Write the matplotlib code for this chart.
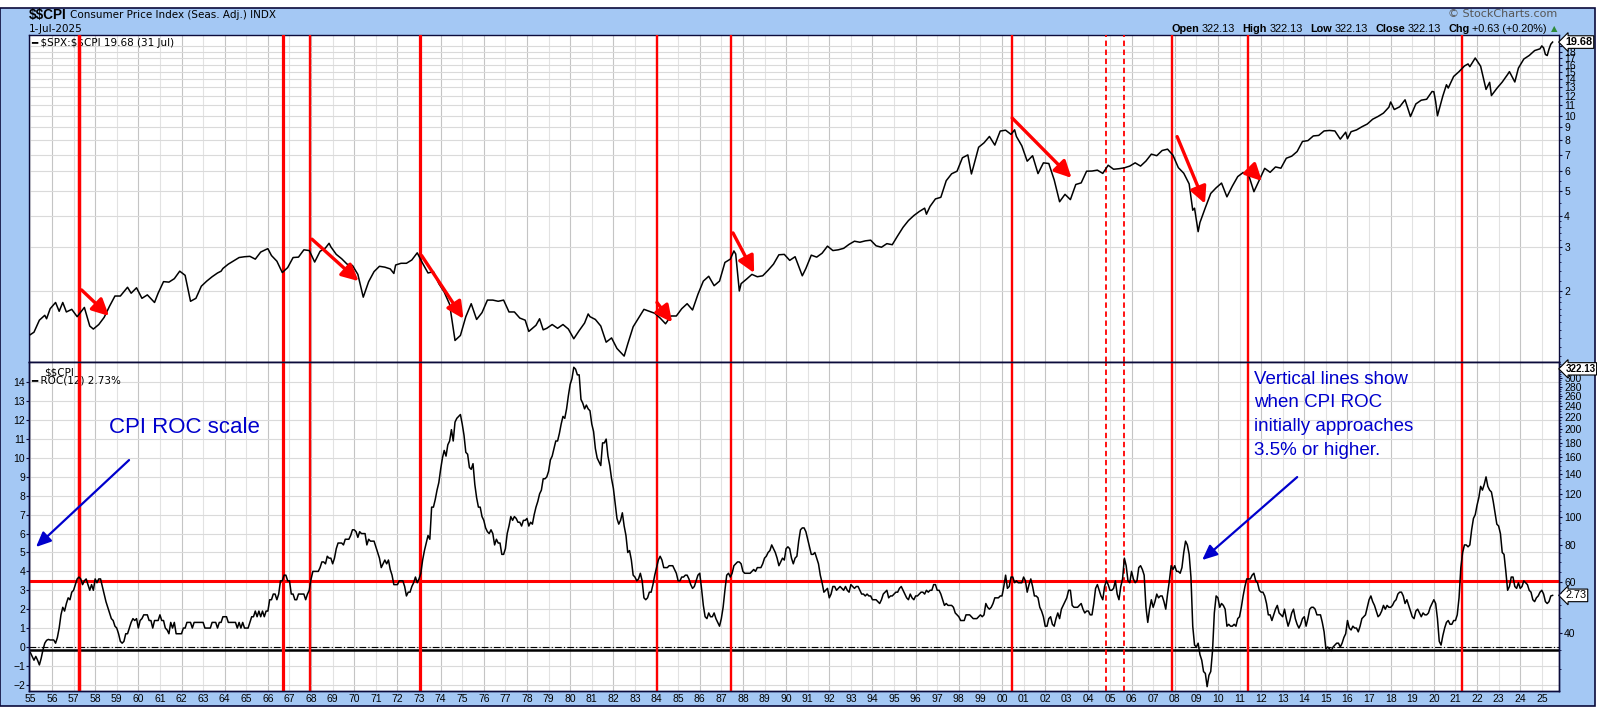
import numpy as np
import matplotlib
matplotlib.use("Agg")
import matplotlib.pyplot as plt
import matplotlib.ticker as mticker
import matplotlib.transforms as mtrans
from matplotlib.patches import Rectangle

plt.rcParams['font.family'] = ['DejaVu Sans']

W, H = 1597, 708
BLUE_BG = '#a4c8f4'
NAVY = '#0b0b3b'
RED = '#ff0000'
ANNOT_BLUE = '#0000cc'
TICK_FONT = 'Liberation Sans'

# ---- data: $SPX:$$CPI ratio (month, value) ----
ratio_dates = [
    '1955-01', '1955-03', '1955-06', '1955-09', '1955-10', '1955-12', '1956-03', '1956-05', '1956-07', '1956-09',
    '1956-12', '1957-03', '1957-07', '1957-10', '1957-12', '1958-03', '1958-06', '1958-09', '1958-12', '1959-03',
    '1959-07', '1959-09', '1959-12', '1960-03', '1960-06', '1960-10', '1960-12', '1961-03', '1961-06', '1961-09',
    '1961-12', '1962-03', '1962-06', '1962-09', '1962-12', '1963-03', '1963-06', '1963-09', '1963-11', '1963-12',
    '1964-03', '1964-06', '1964-09', '1964-12', '1965-03', '1965-06', '1965-09', '1965-12', '1966-01', '1966-03',
    '1966-06', '1966-09', '1966-12', '1967-03', '1967-06', '1967-09', '1967-12', '1968-03', '1968-06', '1968-09',
    '1968-11', '1968-12', '1969-03', '1969-06', '1969-09', '1969-12', '1970-03', '1970-06', '1970-09', '1970-12',
    '1971-03', '1971-06', '1971-09', '1971-11', '1971-12', '1972-03', '1972-06', '1972-09', '1972-12', '1973-03',
    '1973-06', '1973-09', '1973-12', '1974-03', '1974-06', '1974-09', '1974-12', '1975-03', '1975-06', '1975-09',
    '1975-12', '1976-03', '1976-06', '1976-09', '1976-12', '1977-03', '1977-06', '1977-09', '1977-12', '1978-02',
    '1978-03', '1978-06', '1978-08', '1978-10', '1978-12', '1979-03', '1979-06', '1979-09', '1979-12', '1980-03',
    '1980-06', '1980-09', '1980-11', '1980-12', '1981-03', '1981-06', '1981-09', '1981-12', '1982-03', '1982-07',
    '1982-09', '1982-12', '1983-03', '1983-06', '1983-09', '1983-12', '1984-03', '1984-06', '1984-09', '1984-12',
    '1985-03', '1985-06', '1985-09', '1985-12', '1986-03', '1986-06', '1986-09', '1986-12', '1987-03', '1987-06',
    '1987-08', '1987-09', '1987-11', '1987-12', '1988-03', '1988-06', '1988-09', '1988-12', '1989-03', '1989-06',
    '1989-09', '1989-12', '1990-03', '1990-06', '1990-10', '1990-12', '1991-03', '1991-06', '1991-09', '1991-12',
    '1992-03', '1992-06', '1992-09', '1992-12', '1993-03', '1993-06', '1993-09', '1993-12', '1994-03', '1994-06',
    '1994-09', '1994-12', '1995-03', '1995-06', '1995-09', '1995-12', '1996-03', '1996-06', '1996-07', '1996-09',
    '1996-12', '1997-03', '1997-06', '1997-09', '1997-12', '1998-03', '1998-06', '1998-08', '1998-09', '1998-12',
    '1999-03', '1999-06', '1999-09', '1999-12', '2000-03', '2000-06', '2000-08', '2000-09', '2000-12', '2001-03',
    '2001-06', '2001-09', '2001-12', '2002-03', '2002-06', '2002-09', '2002-12', '2003-03', '2003-06', '2003-09',
    '2003-12', '2004-03', '2004-06', '2004-09', '2004-12', '2005-03', '2005-06', '2005-09', '2005-12', '2006-03',
    '2006-06', '2006-09', '2006-12', '2007-03', '2007-06', '2007-09', '2007-12', '2008-03', '2008-06', '2008-09',
    '2008-11', '2008-12', '2009-02', '2009-03', '2009-06', '2009-09', '2009-12', '2010-03', '2010-06', '2010-09',
    '2010-12', '2011-03', '2011-06', '2011-09', '2011-12', '2012-03', '2012-06', '2012-09', '2012-12', '2013-03',
    '2013-06', '2013-09', '2013-12', '2014-03', '2014-06', '2014-09', '2014-12', '2015-03', '2015-06', '2015-09',
    '2015-12', '2016-01', '2016-03', '2016-06', '2016-09', '2016-12', '2017-03', '2017-06', '2017-09', '2017-12',
    '2018-01', '2018-03', '2018-06', '2018-09', '2018-12', '2019-03', '2019-06', '2019-09', '2019-12', '2020-01',
    '2020-02', '2020-03', '2020-06', '2020-08', '2020-09', '2020-12', '2021-03', '2021-06', '2021-08', '2021-09',
    '2021-12', '2022-03', '2022-06', '2022-08', '2022-09', '2022-12', '2023-03', '2023-06', '2023-07', '2023-10',
    '2023-12', '2024-03', '2024-06', '2024-09', '2024-12', '2025-01', '2025-02', '2025-03', '2025-04', '2025-05',
    '2025-06', '2025-07',
]
ratio_vals = [
    1.34, 1.37, 1.53, 1.60, 1.55, 1.70, 1.80, 1.66, 1.80, 1.65,
    1.69, 1.58, 1.72, 1.45, 1.41, 1.47, 1.57, 1.74, 1.91, 1.91,
    2.07, 1.96, 2.06, 1.87, 1.93, 1.80, 1.96, 2.18, 2.17, 2.24,
    2.40, 2.31, 1.82, 1.87, 2.09, 2.19, 2.28, 2.36, 2.40, 2.46,
    2.56, 2.64, 2.72, 2.74, 2.75, 2.68, 2.86, 2.93, 2.95, 2.77,
    2.63, 2.37, 2.48, 2.72, 2.73, 2.92, 2.90, 2.61, 2.88, 2.97,
    3.10, 3.00, 2.80, 2.69, 2.56, 2.53, 2.33, 1.89, 2.18, 2.39,
    2.51, 2.49, 2.45, 2.35, 2.54, 2.58, 2.58, 2.66, 2.84, 2.58,
    2.36, 2.39, 2.14, 1.98, 1.77, 1.27, 1.33, 1.58, 1.78, 1.54,
    1.64, 1.84, 1.84, 1.82, 1.84, 1.65, 1.65, 1.56, 1.53, 1.38,
    1.40, 1.46, 1.55, 1.40, 1.42, 1.47, 1.42, 1.47, 1.41, 1.29,
    1.39, 1.49, 1.62, 1.58, 1.54, 1.45, 1.25, 1.30, 1.18, 1.10,
    1.23, 1.44, 1.56, 1.69, 1.66, 1.63, 1.56, 1.48, 1.59, 1.59,
    1.70, 1.78, 1.68, 1.94, 2.19, 2.29, 2.10, 2.19, 2.60, 2.68,
    2.89, 2.81, 2.00, 2.14, 2.23, 2.33, 2.28, 2.30, 2.42, 2.56,
    2.79, 2.80, 2.65, 2.74, 2.30, 2.46, 2.78, 2.73, 2.83, 3.02,
    2.90, 2.92, 2.96, 3.07, 3.16, 3.13, 3.17, 3.19, 3.03, 2.99,
    3.09, 3.06, 3.32, 3.59, 3.82, 4.00, 4.15, 4.28, 4.05, 4.35,
    4.66, 4.73, 5.51, 5.87, 6.01, 6.80, 6.98, 5.86, 6.22, 7.49,
    7.80, 8.27, 7.64, 8.69, 8.76, 8.43, 8.79, 8.27, 7.59, 6.59,
    6.93, 5.88, 6.49, 6.45, 5.55, 4.54, 4.86, 4.63, 5.32, 5.40,
    6.01, 6.02, 6.07, 5.89, 6.35, 6.12, 6.15, 6.20, 6.30, 6.49,
    6.30, 6.60, 7.03, 6.93, 7.27, 7.36, 6.96, 6.21, 5.90, 5.35,
    4.20, 4.28, 3.45, 3.75, 4.30, 4.90, 5.16, 5.39, 4.75, 5.24,
    5.72, 5.94, 5.83, 4.98, 5.54, 6.17, 5.95, 6.25, 6.18, 6.77,
    6.90, 7.20, 7.90, 7.96, 8.31, 8.35, 8.70, 8.74, 8.70, 8.07,
    8.60, 8.10, 8.64, 8.78, 9.04, 9.27, 9.69, 9.94, 10.25, 10.82,
    11.35, 10.59, 10.86, 11.58, 9.93, 11.15, 11.54, 11.64, 12.50, 12.47,
    11.40, 10.00, 12.00, 13.30, 12.90, 14.35, 15.00, 15.80, 16.10, 15.70,
    17.00, 15.76, 12.74, 13.60, 12.04, 12.86, 13.63, 14.62, 15.00, 13.64,
    15.50, 16.84, 17.40, 18.20, 18.50, 19.00, 18.66, 17.56, 17.39, 18.44,
    19.30, 19.68,
]

# ---- data: $$CPI ROC(12), monthly from Jan 1955 ----
roc_start_year = 1955
roc_vals = [
    -0.3, -0.5, -0.7, -0.5, -0.7, -0.95, -0.6, -0.15, 0.2, 0.35, 0.4, 0.37,   # 1955
    0.37, 0.37, 0.2, 0.5, 1.0, 1.7, 2.1, 1.9, 2.3, 2.6, 2.5, 2.9,
    3.0, 3.3, 3.6, 3.7, 3.6, 3.3, 3.5, 3.6, 3.3, 3.0, 3.3, 3.0,
    3.6, 3.4, 3.6, 3.6, 3.2, 2.8, 2.4, 2.1, 1.8, 1.5, 1.4, 1.1,
    1.0, 0.7, 0.3, 0.2, 0.3, 0.7, 0.7, 1.0, 1.3, 1.5, 1.4, 1.5,
    1.0, 1.4, 1.5, 1.7, 1.7, 1.7, 1.4, 1.4, 1.0, 1.4, 1.4, 1.4,               # 1960
    1.7, 1.4, 1.4, 1.0, 0.9, 0.7, 1.3, 1.0, 1.3, 0.7, 0.7, 0.7,
    0.7, 1.0, 1.0, 1.3, 1.3, 1.3, 1.0, 1.3, 1.3, 1.3, 1.3, 1.3,
    1.3, 1.0, 1.0, 1.0, 1.0, 1.3, 1.3, 1.3, 1.0, 1.3, 1.3, 1.6,
    1.6, 1.6, 1.3, 1.3, 1.3, 1.3, 1.3, 1.0, 1.3, 1.0, 1.3, 1.0,
    1.0, 1.0, 1.3, 1.6, 1.6, 1.9, 1.6, 1.9, 1.6, 1.9, 1.6, 1.9,               # 1965
    1.9, 2.5, 2.5, 2.8, 2.8, 2.5, 2.8, 3.5, 3.5, 3.8, 3.8, 3.5,
    3.5, 2.8, 2.8, 2.5, 2.5, 2.8, 2.8, 2.8, 2.8, 2.5, 2.8, 3.0,
    3.6, 4.0, 4.0, 4.0, 4.0, 4.2, 4.5, 4.5, 4.4, 4.8, 4.7, 4.7,
    4.4, 4.7, 5.2, 5.5, 5.5, 5.5, 5.4, 5.7, 5.7, 5.7, 5.9, 6.2,
    6.2, 6.1, 5.8, 6.1, 6.0, 6.0, 6.0, 5.4, 5.7, 5.6, 5.6, 5.6,               # 1970
    5.3, 5.0, 4.7, 4.2, 4.4, 4.6, 4.4, 4.6, 4.1, 3.8, 3.3, 3.3,
    3.3, 3.5, 3.5, 3.5, 3.2, 2.7, 2.9, 2.9, 3.2, 3.4, 3.7, 3.4,
    3.6, 3.9, 4.6, 5.1, 5.5, 5.9, 5.7, 7.4, 7.4, 7.8, 8.3, 8.7,
    9.4, 10.0, 10.4, 10.1, 10.7, 10.9, 11.5, 10.9, 11.9, 12.1, 12.2, 12.3,
    11.8, 11.2, 10.3, 10.2, 9.5, 9.4, 9.7, 8.6, 7.9, 7.4, 7.4, 6.9,           # 1975
    6.7, 6.3, 6.1, 6.0, 6.2, 6.0, 5.4, 5.7, 5.5, 5.5, 4.9, 4.9,
    5.2, 6.0, 6.4, 6.9, 6.7, 6.9, 6.8, 6.6, 6.6, 6.4, 6.7, 6.7,
    6.8, 6.4, 6.6, 6.5, 7.0, 7.4, 7.7, 8.1, 8.3, 8.9, 8.9, 9.0,
    9.3, 9.9, 10.1, 10.5, 10.9, 10.9, 11.3, 11.8, 12.2, 12.1, 12.6, 13.3,
    13.9, 14.2, 14.8, 14.7, 14.4, 14.4, 13.1, 12.9, 12.6, 12.8, 12.6, 12.5,   # 1980
    11.8, 11.4, 10.5, 10.0, 9.8, 9.6, 10.8, 10.8, 11.0, 10.1, 9.6, 8.9,
    8.4, 7.6, 6.8, 6.5, 6.7, 7.1, 6.4, 5.9, 5.0, 5.1, 4.6, 3.8,
    3.7, 3.5, 3.6, 3.9, 3.5, 2.6, 2.5, 2.6, 2.9, 2.9, 3.3, 3.8,
    4.2, 4.6, 4.8, 4.6, 4.2, 4.2, 4.2, 4.3, 4.3, 4.3, 4.1, 3.9,
    3.5, 3.5, 3.7, 3.7, 3.8, 3.8, 3.6, 3.3, 3.1, 3.2, 3.5, 3.8,               # 1985
    3.9, 3.1, 2.2, 1.6, 1.5, 1.8, 1.6, 1.6, 1.8, 1.5, 1.3, 1.1,
    1.5, 2.1, 3.0, 3.8, 3.9, 3.7, 3.9, 4.3, 4.4, 4.5, 4.5, 4.4,
    4.0, 3.9, 3.9, 3.9, 3.9, 4.0, 4.1, 4.0, 4.2, 4.2, 4.2, 4.4,
    4.7, 4.8, 5.0, 5.1, 5.4, 5.2, 5.0, 4.7, 4.3, 4.5, 4.7, 4.6,
    5.2, 5.3, 5.2, 4.7, 4.4, 4.7, 4.8, 5.6, 6.2, 6.3, 6.3, 6.1,               # 1990
    5.7, 5.3, 4.9, 4.9, 5.0, 4.7, 4.4, 3.8, 3.4, 2.9, 3.0, 3.1,
    2.6, 2.8, 3.2, 3.2, 3.0, 3.1, 3.2, 3.1, 3.0, 3.2, 3.0, 2.9,
    3.3, 3.2, 3.1, 3.2, 3.2, 3.0, 2.8, 2.8, 2.7, 2.8, 2.7, 2.7,
    2.5, 2.5, 2.5, 2.4, 2.3, 2.5, 2.8, 2.9, 3.0, 2.6, 2.7, 2.7,
    2.8, 2.9, 2.9, 3.1, 3.2, 3.0, 2.8, 2.6, 2.5, 2.8, 2.6, 2.5,               # 1995
    2.7, 2.7, 2.8, 2.9, 2.9, 2.8, 3.0, 2.9, 3.0, 3.0, 3.3, 3.3,
    3.0, 3.0, 2.8, 2.5, 2.2, 2.3, 2.2, 2.2, 2.2, 2.1, 1.8, 1.7,
    1.6, 1.4, 1.4, 1.4, 1.7, 1.7, 1.7, 1.6, 1.5, 1.5, 1.5, 1.6,
    1.7, 1.6, 1.7, 2.3, 2.1, 2.0, 2.1, 2.3, 2.6, 2.6, 2.6, 2.7,
    2.7, 3.2, 3.8, 3.1, 3.2, 3.7, 3.7, 3.4, 3.5, 3.4, 3.4, 3.4,               # 2000
    3.7, 3.5, 2.9, 3.3, 3.6, 3.2, 2.7, 2.7, 2.6, 2.1, 1.9, 1.6,
    1.1, 1.1, 1.5, 1.6, 1.2, 1.1, 1.5, 1.8, 1.5, 2.0, 2.2, 2.4,
    2.6, 3.0, 3.0, 2.2, 2.1, 2.1, 2.1, 2.2, 2.3, 2.0, 1.8, 1.9,
    1.9, 1.7, 1.7, 2.3, 3.1, 3.3, 3.0, 2.7, 2.5, 3.2, 3.5, 3.3,
    3.0, 3.0, 3.1, 3.5, 2.8, 2.5, 3.2, 3.6, 4.7, 4.3, 3.5, 3.4,               # 2005
    4.0, 3.6, 3.4, 3.5, 4.2, 4.3, 4.1, 3.8, 2.1, 1.3, 2.0, 2.5,
    2.1, 2.4, 2.8, 2.6, 2.7, 2.7, 2.4, 2.0, 2.8, 3.5, 4.3, 4.1,
    4.3, 4.0, 4.0, 3.9, 4.2, 5.0, 5.6, 5.4, 4.9, 3.7, 1.1, 0.1,
    0.0, 0.2, -0.4, -0.7, -1.3, -1.4, -2.1, -1.5, -1.3, -0.2, 1.8, 2.7,
    2.6, 2.1, 2.3, 2.2, 2.0, 1.1, 1.2, 1.1, 1.1, 1.2, 1.1, 1.5,               # 2010
    1.6, 2.1, 2.7, 3.2, 3.6, 3.6, 3.6, 3.8, 3.9, 3.5, 3.4, 3.0,
    2.9, 2.9, 2.7, 2.3, 1.7, 1.7, 1.4, 1.7, 2.0, 2.2, 1.8, 1.7,
    1.6, 2.0, 1.5, 1.1, 1.4, 1.8, 2.0, 1.5, 1.2, 1.0, 1.2, 1.5,
    1.6, 1.1, 1.5, 2.0, 2.1, 2.1, 2.0, 1.7, 1.7, 1.7, 1.3, 0.8,
    -0.1, 0.0, -0.1, -0.2, 0.0, 0.1, 0.2, 0.2, 0.0, 0.2, 0.5, 0.7,           # 2015
    1.4, 1.0, 0.9, 1.1, 1.0, 1.0, 0.8, 1.1, 1.5, 1.6, 1.7, 2.1,
    2.5, 2.7, 2.4, 2.2, 1.9, 1.6, 1.7, 1.9, 2.2, 2.0, 2.2, 2.1,
    2.1, 2.2, 2.4, 2.5, 2.8, 2.9, 2.9, 2.7, 2.3, 2.5, 2.2, 1.9,
    1.6, 1.5, 1.9, 2.0, 1.8, 1.6, 1.8, 1.7, 1.7, 1.8, 2.1, 2.3,
    2.5, 2.3, 1.5, 0.3, 0.1, 0.6, 1.0, 1.3, 1.4, 1.2, 1.2, 1.4,               # 2020
    1.4, 1.7, 2.6, 4.2, 5.0, 5.4, 5.4, 5.3, 5.4, 6.2, 6.8, 7.0,
    7.5, 7.9, 8.5, 8.3, 8.6, 9.0, 8.5, 8.3, 8.2, 7.7, 7.1, 6.5,
    6.4, 6.0, 5.0, 4.9, 4.0, 3.0, 3.2, 3.7, 3.7, 3.2, 3.1, 3.4,
    3.1, 3.2, 3.5, 3.4, 3.3, 3.0, 2.9, 2.5, 2.4, 2.6, 2.7, 2.9,
    3.0, 2.8, 2.4, 2.3, 2.4, 2.7, 2.73,                                       # 2025
]

# vertical signal lines (decimal year) and their widths
signal_years = [1957.26, 1966.71, 1967.95, 1973.05, 1984.00, 1987.43, 2000.46, 2007.87, 2011.38, 2021.31]
signal_lw = [2.5, 2.3, 1.7, 2.3, 1.7, 1.7, 1.7, 1.7, 1.7, 1.7]
dashed_years = [2004.82, 2005.64]
roc_threshold = 3.5

# red arrows on the ratio panel: (x0, y0) -> (x1, y1)
red_arrow_start = [(1957.37, 2.02), (1968.04, 3.22), (1973.12, 2.77), (1984.02, 1.80),
                   (1987.54, 3.41), (2000.47, 9.80), (2008.11, 8.26), (2011.49, 6.13)]
red_arrow_end = [(1958.64, 1.59), (1970.20, 2.19), (1975.06, 1.55), (1984.72, 1.50),
                 (1988.52, 2.36), (2003.22, 5.65), (2009.40, 4.46), (2012.04, 5.49)]

top_ticks = list(range(2, 20))
roc_ticks = list(range(-2, 15))
cpi_ticks = list(range(40, 301, 20))

ratio_t = np.array([int(d[:4]) + (int(d[5:]) - 1) / 12 for d in ratio_dates])
roc_t = roc_start_year + np.arange(len(roc_vals)) / 12

# ---- figure ----
fig = plt.figure(figsize=(W / 100, H / 100), dpi=100)
fig.patch.set_facecolor('white')
fig.patches.append(Rectangle((0, 1 - 706 / H), 1595 / W, 698 / H, transform=fig.transFigure,
                             facecolor=BLUE_BG, edgecolor=NAVY, lw=1.2, zorder=-5))

L, R = 29.3 / W, 1559.3 / W
ax1 = fig.add_axes([L, 1 - 362 / H, R - L, 327 / H])
ax2 = fig.add_axes([L, 1 - 691 / H, R - L, 329 / H], sharex=ax1)
ax2r = ax2.twinx()

for ax in (ax1, ax2, ax2r):
    for sp in ax.spines.values():
        sp.set_color(NAVY)
        sp.set_linewidth(1.0)
ax1.set_facecolor('white')
ax2.set_facecolor('white')

ax1.set_xlim(1954.95, 2025.81)

# year grid: even years darker, odd years lighter
ax2.xaxis.set_major_locator(mticker.FixedLocator(list(range(1956, 2026, 2))))
ax2.xaxis.set_minor_locator(mticker.FixedLocator(list(range(1955, 2026, 2))))
yy = mticker.FuncFormatter(lambda v, p: f"{int(round(v)) % 100:02d}")
ax2.xaxis.set_major_formatter(yy)
ax2.xaxis.set_minor_formatter(yy)
ax2.tick_params(axis='x', which='both', length=0, pad=2.5, labelsize=7.5,
                labelfontfamily=TICK_FONT)
ax1.tick_params(axis='x', which='both', length=0, labelbottom=False)
for ax in (ax1, ax2):
    ax.grid(True, axis='x', which='major', color='#c4c4c4', lw=0.8, zorder=0)
    ax.grid(True, axis='x', which='minor', color='#e2e2e2', lw=0.8, zorder=0)
    ax.set_axisbelow(True)

# ---- top panel: ratio on log scale ----
ax1.set_yscale('log')
ax1.set_ylim(1.042, 21.0)
ax1.yaxis.set_major_locator(mticker.FixedLocator(top_ticks))
ax1.yaxis.set_major_formatter(mticker.FuncFormatter(lambda v, p: '' if v > 18.5 else f"{v:g}"))
ax1.yaxis.set_minor_locator(mticker.FixedLocator([1.1, 1.2, 1.3, 1.4, 1.5, 1.6, 1.7, 1.8, 1.9,
                                                 2.2, 2.4, 2.6, 2.8, 3.2, 3.4, 3.6, 3.8, 4.5, 5.5]))
ax1.yaxis.set_minor_formatter(mticker.NullFormatter())
ax1.tick_params(axis='y', which='both', left=False, labelleft=False, right=True, labelright=True,
                labelsize=7.5, labelfontfamily=TICK_FONT, pad=1, color=NAVY)
ax1.tick_params(axis='y', which='major', length=2.5)
ax1.tick_params(axis='y', which='minor', length=1.5)
ax1.grid(True, axis='y', which='major', color='#dadada', lw=0.8, zorder=0)

ax1.plot(ratio_t, ratio_vals, color='black', lw=1.1, zorder=4)

for (x0, y0), (x1, y1) in zip(red_arrow_start, red_arrow_end):
    ax1.annotate('', xy=(x1, y1), xytext=(x0, y0), zorder=5,
                 arrowprops=dict(arrowstyle='-|>,head_length=1.0,head_width=0.5', color=RED,
                                 lw=2.4, shrinkA=0, shrinkB=0))

# ---- bottom panel: CPI ROC(12) ----
ax2.set_ylim(-2.33, 15.08)
ax2.yaxis.set_major_locator(mticker.FixedLocator(roc_ticks))
ax2.tick_params(axis='y', which='major', length=2, pad=1, labelsize=7.5,
                labelfontfamily=TICK_FONT, color=NAVY)
ax2.grid(True, axis='y', which='major', color='#dadada', lw=0.8, zorder=0)

ax2r.set_yscale('log')
ax2r.set_ylim(25.3, 340)
ax2r.yaxis.set_major_locator(mticker.FixedLocator(cpi_ticks))
ax2r.yaxis.set_major_formatter(mticker.FuncFormatter(lambda v, p: f"{v:g}"))
ax2r.yaxis.set_minor_locator(mticker.FixedLocator(list(range(30, 340, 5))))
ax2r.yaxis.set_minor_formatter(mticker.NullFormatter())
ax2r.tick_params(axis='y', which='major', length=2.5, pad=1, labelsize=7.5,
                 labelfontfamily=TICK_FONT, color=NAVY)
ax2r.tick_params(axis='y', which='minor', length=1.5, color=NAVY)

ax2.axhline(0, color='black', lw=0.8, ls=(0, (6, 2, 1, 2)), zorder=2)
ax2.axhline(-0.14, color='black', lw=1.8, zorder=2)
ax2.axhline(roc_threshold, color=RED, lw=2.2, zorder=3)
ax2.plot(roc_t, roc_vals, color='black', lw=1.1, zorder=4)

# vertical signal lines through both panels
for ax in (ax1, ax2):
    for x, lw in zip(signal_years, signal_lw):
        ax.axvline(x, color=RED, lw=lw, zorder=3)
    for x in dashed_years:
        ax.axvline(x, color=RED, lw=1.3, ls=(0, (3, 2)), zorder=3)

# annotations in blue
ax2.text(1958.64, 11.6, 'CPI ROC scale', color=ANNOT_BLUE, fontsize=16,
         family='Liberation Sans', va='center', ha='left', zorder=6)
ax2.annotate('', xy=(1955.26, 5.29), xytext=(1959.57, 9.89), zorder=6,
             arrowprops=dict(arrowstyle='-|>,head_length=0.9,head_width=0.4', color=ANNOT_BLUE,
                             lw=1.6, shrinkA=0, shrinkB=0))
ax2.text(2011.67, 14.63, 'Vertical lines show\nwhen CPI ROC\ninitially approaches\n3.5% or higher.',
         color=ANNOT_BLUE, fontsize=13.5, family='Liberation Sans', va='top', ha='left',
         linespacing=1.53, zorder=6)
ax2.annotate('', xy=(2009.27, 4.60), xytext=(2013.67, 8.99), zorder=6,
             arrowprops=dict(arrowstyle='-|>,head_length=0.9,head_width=0.4', color=ANNOT_BLUE,
                             lw=1.6, shrinkA=0, shrinkB=0))

# panel legends
ax1.text(1.7 / 1530, 1 - 7.7 / 327, '\u2501 $SPX:$$CPI 19.68 (31 Jul)', transform=ax1.transAxes,
         fontsize=7.5, va='center', ha='left', parse_math=False, zorder=2)
ax2.text(15 / 1530, 1 - 10.7 / 329, '$$CPI', transform=ax2.transAxes,
         fontsize=7.5, va='center', ha='left', parse_math=False, zorder=2)
ax2.text(1.7 / 1530, 1 - 18.7 / 329, '\u2501 ROC(12) 2.73%', transform=ax2.transAxes,
         fontsize=7.5, va='center', ha='left', parse_math=False, zorder=2)

# value tags on the right scales
tag_box = dict(boxstyle='larrow,pad=0.12', facecolor='white', edgecolor='black', lw=0.8)
for ax, val, txt, wt, fs in ((ax1, 19.68, '19.68', 'bold', 7.8), (ax2r, 322.13, '322.13', 'bold', 7.0),
                             (ax2, 2.73, '2.73', 'normal', 7.8)):
    tr = mtrans.blended_transform_factory(ax.transAxes, ax.transData)
    ax.text(1 + 6 / 1530, val, txt, transform=tr, fontsize=fs, fontweight=wt,
            family=TICK_FONT, va='center', ha='left', bbox=tag_box, zorder=10, clip_on=False)

# ---- header ----
renderer = fig.canvas.get_renderer()


def ftext(x, y, s, **kw):
    return fig.text(x / W, 1 - y / H, s, va='center', parse_math=False, **kw)


def width_px(t):
    return t.get_window_extent(renderer=renderer).width


t_sym = ftext(28.5, 14.5, '$$CPI', fontsize=9.8, fontweight='bold', family=TICK_FONT)
ftext(28.5 + width_px(t_sym) + 4, 15.5, 'Consumer Price Index (Seas. Adj.) INDX', fontsize=7.5)
ftext(28.5, 28.5, '1-Jul-2025', fontsize=7.5)
ftext(1557, 14, '\u00a9 StockCharts.com', fontsize=8, color='#555555', ha='right')

# quote line laid out right to left so it ends next to the arrow
quote = [('Open', 'bold'), ('322.13', 'normal'), ('High', 'bold'), ('322.13', 'normal'),
         ('Low', 'bold'), ('322.13', 'normal'), ('Close', 'bold'), ('322.13', 'normal'),
         ('Chg', 'bold'), ('+0.63 (+0.20%)', 'normal')]
xr = 1547
for s, wt in reversed(quote):
    t = ftext(xr, 28.5, s, fontsize=7.8, fontweight=wt, family=TICK_FONT, ha='right')
    xr -= width_px(t) + (3 if wt == 'normal' else 7)
ftext(1551, 29, '\u25b2', fontsize=6, color='#2e8b3a')

fig.savefig('out.png', dpi=100, facecolor=fig.get_facecolor())
